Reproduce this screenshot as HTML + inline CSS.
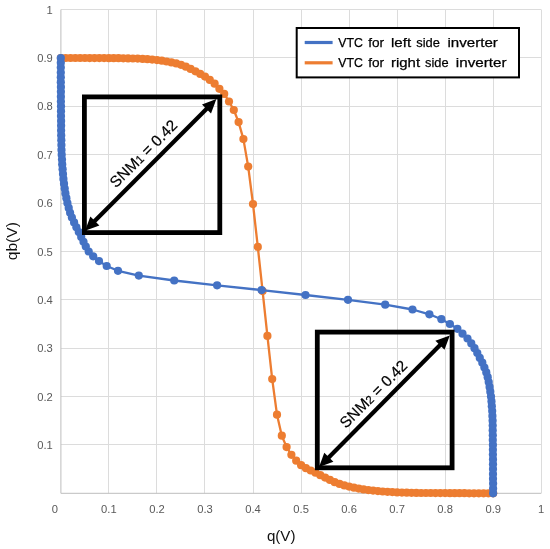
<!DOCTYPE html>
<html lang="en"><head><meta charset="utf-8"><title>VTC butterfly curve</title>
<style>
html,body{margin:0;padding:0;background:#fff}
body{width:550px;height:549px;overflow:hidden}
svg{display:block}
svg text{font-family:"Liberation Sans",sans-serif}
</style></head><body>
<svg width="550" height="549" viewBox="0 0 550 549">
<rect width="550" height="549" fill="#fff"/>
<g stroke="#dcdcdc" stroke-width="1"><line x1="108.5" y1="9.6" x2="108.5" y2="493.3"/><line x1="60.9" y1="444.5" x2="541.2" y2="444.5"/><line x1="156.5" y1="9.6" x2="156.5" y2="493.3"/><line x1="60.9" y1="396.5" x2="541.2" y2="396.5"/><line x1="204.5" y1="9.6" x2="204.5" y2="493.3"/><line x1="60.9" y1="348.5" x2="541.2" y2="348.5"/><line x1="253.5" y1="9.6" x2="253.5" y2="493.3"/><line x1="60.9" y1="299.5" x2="541.2" y2="299.5"/><line x1="301.5" y1="9.6" x2="301.5" y2="493.3"/><line x1="60.9" y1="251.5" x2="541.2" y2="251.5"/><line x1="349.5" y1="9.6" x2="349.5" y2="493.3"/><line x1="60.9" y1="203.5" x2="541.2" y2="203.5"/><line x1="397.5" y1="9.6" x2="397.5" y2="493.3"/><line x1="60.9" y1="154.5" x2="541.2" y2="154.5"/><line x1="445.5" y1="9.6" x2="445.5" y2="493.3"/><line x1="60.9" y1="106.5" x2="541.2" y2="106.5"/><line x1="493.5" y1="9.6" x2="493.5" y2="493.3"/><line x1="60.9" y1="57.5" x2="541.2" y2="57.5"/><line x1="541.5" y1="9.6" x2="541.5" y2="493.3"/><line x1="60.9" y1="9.5" x2="541.2" y2="9.5"/></g>
<g stroke="#bdbdbd" stroke-width="1"><line x1="60.9" y1="9.6" x2="60.9" y2="493.3"/><line x1="60.9" y1="493.3" x2="541.2" y2="493.3"/></g>
<g class="tick" fill="#595959" font-size="11.2"><text x="54.9" y="513.4" text-anchor="middle">0</text><text x="108.9" y="513.4" text-anchor="middle">0.1</text><text x="157.0" y="513.4" text-anchor="middle">0.2</text><text x="205.0" y="513.4" text-anchor="middle">0.3</text><text x="253.0" y="513.4" text-anchor="middle">0.4</text><text x="301.1" y="513.4" text-anchor="middle">0.5</text><text x="349.1" y="513.4" text-anchor="middle">0.6</text><text x="397.1" y="513.4" text-anchor="middle">0.7</text><text x="445.1" y="513.4" text-anchor="middle">0.8</text><text x="493.2" y="513.4" text-anchor="middle">0.9</text><text x="541.2" y="513.4" text-anchor="middle">1</text><text x="52.8" y="448.9" text-anchor="end">0.1</text><text x="52.8" y="400.6" text-anchor="end">0.2</text><text x="52.8" y="352.2" text-anchor="end">0.3</text><text x="52.8" y="303.8" text-anchor="end">0.4</text><text x="52.8" y="255.5" text-anchor="end">0.5</text><text x="52.8" y="207.1" text-anchor="end">0.6</text><text x="52.8" y="158.7" text-anchor="end">0.7</text><text x="52.8" y="110.3" text-anchor="end">0.8</text><text x="52.8" y="62.0" text-anchor="end">0.9</text><text x="52.8" y="13.6" text-anchor="end">1</text></g>
<text class="ttl" x="266.9" y="540.6" textLength="28.6" lengthAdjust="spacingAndGlyphs" font-size="15.3" fill="#111">q(V)</text>
<text class="ttl" transform="translate(17,260.3) rotate(-90)" textLength="38.2" lengthAdjust="spacingAndGlyphs" font-size="15.3" fill="#111">qb(V)</text>
<g fill="#ed7d31"><polyline fill="none" stroke="#ed7d31" stroke-width="2.3" stroke-linejoin="round" points="60.9,58.0 65.7,58.0 70.5,58.0 75.3,58.0 80.1,58.0 84.9,58.0 89.7,58.1 94.5,58.1 99.3,58.1 104.1,58.1 108.9,58.2 113.7,58.2 118.5,58.2 123.3,58.3 128.1,58.4 132.9,58.5 137.7,58.6 142.6,58.9 147.4,59.2 152.2,59.6 157.0,60.1 161.8,60.7 166.6,61.5 171.4,62.4 176.2,63.4 181.0,64.8 185.8,66.7 190.6,68.9 195.4,71.3 200.2,73.9 205.0,76.6 209.8,79.9 214.6,83.7 219.4,88.8 224.2,93.9 229.0,101.5 233.8,110.0 238.6,122.1 243.4,139.1 248.2,166.6 253.0,204.0 257.8,246.9 262.6,291.1 267.4,335.9 272.2,379.1 277.0,414.7 281.8,435.7 286.6,447.1 291.4,454.8 296.2,460.7 301.1,465.2 305.9,468.2 310.7,470.5 315.5,472.7 320.3,475.2 325.1,477.6 329.9,479.9 334.7,482.2 339.5,483.9 344.3,485.4 349.1,486.6 353.9,487.7 358.7,488.6 363.5,489.4 368.3,490.1 373.1,490.6 377.9,491.1 382.7,491.5 387.5,491.8 392.3,492.1 397.1,492.4 401.9,492.6 406.7,492.7 411.5,492.8 416.3,492.9 421.1,493.0 425.9,493.0 430.7,493.0 435.5,493.1 440.3,493.1 445.1,493.1 449.9,493.2 454.7,493.2 459.5,493.2 464.4,493.2 469.2,493.3 474.0,493.3 478.8,493.3 483.6,493.3 488.4,493.3 493.2,493.3"/><circle cx="60.9" cy="58.0" r="4.1"/><circle cx="65.7" cy="58.0" r="4.1"/><circle cx="70.5" cy="58.0" r="4.1"/><circle cx="75.3" cy="58.0" r="4.1"/><circle cx="80.1" cy="58.0" r="4.1"/><circle cx="84.9" cy="58.0" r="4.1"/><circle cx="89.7" cy="58.1" r="4.1"/><circle cx="94.5" cy="58.1" r="4.1"/><circle cx="99.3" cy="58.1" r="4.1"/><circle cx="104.1" cy="58.1" r="4.1"/><circle cx="108.9" cy="58.2" r="4.1"/><circle cx="113.7" cy="58.2" r="4.1"/><circle cx="118.5" cy="58.2" r="4.1"/><circle cx="123.3" cy="58.3" r="4.1"/><circle cx="128.1" cy="58.4" r="4.1"/><circle cx="132.9" cy="58.5" r="4.1"/><circle cx="137.7" cy="58.6" r="4.1"/><circle cx="142.6" cy="58.9" r="4.1"/><circle cx="147.4" cy="59.2" r="4.1"/><circle cx="152.2" cy="59.6" r="4.1"/><circle cx="157.0" cy="60.1" r="4.1"/><circle cx="161.8" cy="60.7" r="4.1"/><circle cx="166.6" cy="61.5" r="4.1"/><circle cx="171.4" cy="62.4" r="4.1"/><circle cx="176.2" cy="63.4" r="4.1"/><circle cx="181.0" cy="64.8" r="4.1"/><circle cx="185.8" cy="66.7" r="4.1"/><circle cx="190.6" cy="68.9" r="4.1"/><circle cx="195.4" cy="71.3" r="4.1"/><circle cx="200.2" cy="73.9" r="4.1"/><circle cx="205.0" cy="76.6" r="4.1"/><circle cx="209.8" cy="79.9" r="4.1"/><circle cx="214.6" cy="83.7" r="4.1"/><circle cx="219.4" cy="88.8" r="4.1"/><circle cx="224.2" cy="93.9" r="4.1"/><circle cx="229.0" cy="101.5" r="4.1"/><circle cx="233.8" cy="110.0" r="4.1"/><circle cx="238.6" cy="122.1" r="4.1"/><circle cx="243.4" cy="139.1" r="4.1"/><circle cx="248.2" cy="166.6" r="4.1"/><circle cx="253.0" cy="204.0" r="4.1"/><circle cx="257.8" cy="246.9" r="4.1"/><circle cx="262.6" cy="291.1" r="4.1"/><circle cx="267.4" cy="335.9" r="4.1"/><circle cx="272.2" cy="379.1" r="4.1"/><circle cx="277.0" cy="414.7" r="4.1"/><circle cx="281.8" cy="435.7" r="4.1"/><circle cx="286.6" cy="447.1" r="4.1"/><circle cx="291.4" cy="454.8" r="4.1"/><circle cx="296.2" cy="460.7" r="4.1"/><circle cx="301.1" cy="465.2" r="4.1"/><circle cx="305.9" cy="468.2" r="4.1"/><circle cx="310.7" cy="470.5" r="4.1"/><circle cx="315.5" cy="472.7" r="4.1"/><circle cx="320.3" cy="475.2" r="4.1"/><circle cx="325.1" cy="477.6" r="4.1"/><circle cx="329.9" cy="479.9" r="4.1"/><circle cx="334.7" cy="482.2" r="4.1"/><circle cx="339.5" cy="483.9" r="4.1"/><circle cx="344.3" cy="485.4" r="4.1"/><circle cx="349.1" cy="486.6" r="4.1"/><circle cx="353.9" cy="487.7" r="4.1"/><circle cx="358.7" cy="488.6" r="4.1"/><circle cx="363.5" cy="489.4" r="4.1"/><circle cx="368.3" cy="490.1" r="4.1"/><circle cx="373.1" cy="490.6" r="4.1"/><circle cx="377.9" cy="491.1" r="4.1"/><circle cx="382.7" cy="491.5" r="4.1"/><circle cx="387.5" cy="491.8" r="4.1"/><circle cx="392.3" cy="492.1" r="4.1"/><circle cx="397.1" cy="492.4" r="4.1"/><circle cx="401.9" cy="492.6" r="4.1"/><circle cx="406.7" cy="492.7" r="4.1"/><circle cx="411.5" cy="492.8" r="4.1"/><circle cx="416.3" cy="492.9" r="4.1"/><circle cx="421.1" cy="493.0" r="4.1"/><circle cx="425.9" cy="493.0" r="4.1"/><circle cx="430.7" cy="493.0" r="4.1"/><circle cx="435.5" cy="493.1" r="4.1"/><circle cx="440.3" cy="493.1" r="4.1"/><circle cx="445.1" cy="493.1" r="4.1"/><circle cx="449.9" cy="493.2" r="4.1"/><circle cx="454.7" cy="493.2" r="4.1"/><circle cx="459.5" cy="493.2" r="4.1"/><circle cx="464.4" cy="493.2" r="4.1"/><circle cx="469.2" cy="493.3" r="4.1"/><circle cx="474.0" cy="493.3" r="4.1"/><circle cx="478.8" cy="493.3" r="4.1"/><circle cx="483.6" cy="493.3" r="4.1"/><circle cx="488.4" cy="493.3" r="4.1"/><circle cx="493.2" cy="493.3" r="4.1"/></g>
<g fill="#4472c4"><polyline fill="none" stroke="#4472c4" stroke-width="2.3" stroke-linejoin="round" points="493.1,493.3 493.1,488.5 493.1,483.6 493.0,478.8 493.0,474.0 493.0,469.1 493.0,464.3 493.0,459.4 492.9,454.6 492.9,449.8 492.9,444.9 492.8,440.1 492.8,435.3 492.7,430.4 492.7,425.6 492.6,420.7 492.4,415.9 492.2,411.1 491.8,406.2 491.5,401.4 491.0,396.6 490.3,391.7 489.6,386.9 488.7,382.0 487.7,377.2 486.3,372.4 484.4,367.5 482.3,362.7 479.8,357.9 477.3,353.0 474.5,348.2 471.3,343.4 467.5,338.5 462.5,333.7 457.4,328.8 449.9,324.0 441.4,319.2 429.4,314.3 412.5,309.5 385.2,304.7 348.0,299.8 305.5,295.0 261.6,290.1 217.1,285.3 174.2,280.5 138.8,275.6 118.0,270.8 106.7,266.0 99.0,261.1 93.2,256.3 88.7,251.5 85.8,246.6 83.5,241.8 81.2,236.9 78.8,232.1 76.4,227.3 74.1,222.4 71.9,217.6 70.1,212.8 68.7,207.9 67.4,203.1 66.4,198.2 65.4,193.4 64.7,188.6 64.0,183.7 63.4,178.9 63.0,174.1 62.6,169.2 62.2,164.4 62.0,159.5 61.7,154.7 61.5,149.9 61.4,145.0 61.3,140.2 61.2,135.4 61.1,130.5 61.1,125.7 61.1,120.9 61.0,116.0 61.0,111.2 61.0,106.3 60.9,101.5 60.9,96.7 60.9,91.8 60.9,87.0 60.8,82.2 60.8,77.3 60.8,72.5 60.8,67.6 60.8,62.8 60.8,58.0"/><circle cx="493.1" cy="493.3" r="4.1"/><circle cx="493.1" cy="488.5" r="4.1"/><circle cx="493.1" cy="483.6" r="4.1"/><circle cx="493.0" cy="478.8" r="4.1"/><circle cx="493.0" cy="474.0" r="4.1"/><circle cx="493.0" cy="469.1" r="4.1"/><circle cx="493.0" cy="464.3" r="4.1"/><circle cx="493.0" cy="459.4" r="4.1"/><circle cx="492.9" cy="454.6" r="4.1"/><circle cx="492.9" cy="449.8" r="4.1"/><circle cx="492.9" cy="444.9" r="4.1"/><circle cx="492.8" cy="440.1" r="4.1"/><circle cx="492.8" cy="435.3" r="4.1"/><circle cx="492.7" cy="430.4" r="4.1"/><circle cx="492.7" cy="425.6" r="4.1"/><circle cx="492.6" cy="420.7" r="4.1"/><circle cx="492.4" cy="415.9" r="4.1"/><circle cx="492.2" cy="411.1" r="4.1"/><circle cx="491.8" cy="406.2" r="4.1"/><circle cx="491.5" cy="401.4" r="4.1"/><circle cx="491.0" cy="396.6" r="4.1"/><circle cx="490.3" cy="391.7" r="4.1"/><circle cx="489.6" cy="386.9" r="4.1"/><circle cx="488.7" cy="382.0" r="4.1"/><circle cx="487.7" cy="377.2" r="4.1"/><circle cx="486.3" cy="372.4" r="4.1"/><circle cx="484.4" cy="367.5" r="4.1"/><circle cx="482.3" cy="362.7" r="4.1"/><circle cx="479.8" cy="357.9" r="4.1"/><circle cx="477.3" cy="353.0" r="4.1"/><circle cx="474.5" cy="348.2" r="4.1"/><circle cx="471.3" cy="343.4" r="4.1"/><circle cx="467.5" cy="338.5" r="4.1"/><circle cx="462.5" cy="333.7" r="4.1"/><circle cx="457.4" cy="328.8" r="4.1"/><circle cx="449.9" cy="324.0" r="4.1"/><circle cx="441.4" cy="319.2" r="4.1"/><circle cx="429.4" cy="314.3" r="4.1"/><circle cx="412.5" cy="309.5" r="4.1"/><circle cx="385.2" cy="304.7" r="4.1"/><circle cx="348.0" cy="299.8" r="4.1"/><circle cx="305.5" cy="295.0" r="4.1"/><circle cx="261.6" cy="290.1" r="4.1"/><circle cx="217.1" cy="285.3" r="4.1"/><circle cx="174.2" cy="280.5" r="4.1"/><circle cx="138.8" cy="275.6" r="4.1"/><circle cx="118.0" cy="270.8" r="4.1"/><circle cx="106.7" cy="266.0" r="4.1"/><circle cx="99.0" cy="261.1" r="4.1"/><circle cx="93.2" cy="256.3" r="4.1"/><circle cx="88.7" cy="251.5" r="4.1"/><circle cx="85.8" cy="246.6" r="4.1"/><circle cx="83.5" cy="241.8" r="4.1"/><circle cx="81.2" cy="236.9" r="4.1"/><circle cx="78.8" cy="232.1" r="4.1"/><circle cx="76.4" cy="227.3" r="4.1"/><circle cx="74.1" cy="222.4" r="4.1"/><circle cx="71.9" cy="217.6" r="4.1"/><circle cx="70.1" cy="212.8" r="4.1"/><circle cx="68.7" cy="207.9" r="4.1"/><circle cx="67.4" cy="203.1" r="4.1"/><circle cx="66.4" cy="198.2" r="4.1"/><circle cx="65.4" cy="193.4" r="4.1"/><circle cx="64.7" cy="188.6" r="4.1"/><circle cx="64.0" cy="183.7" r="4.1"/><circle cx="63.4" cy="178.9" r="4.1"/><circle cx="63.0" cy="174.1" r="4.1"/><circle cx="62.6" cy="169.2" r="4.1"/><circle cx="62.2" cy="164.4" r="4.1"/><circle cx="62.0" cy="159.5" r="4.1"/><circle cx="61.7" cy="154.7" r="4.1"/><circle cx="61.5" cy="149.9" r="4.1"/><circle cx="61.4" cy="145.0" r="4.1"/><circle cx="61.3" cy="140.2" r="4.1"/><circle cx="61.2" cy="135.4" r="4.1"/><circle cx="61.1" cy="130.5" r="4.1"/><circle cx="61.1" cy="125.7" r="4.1"/><circle cx="61.1" cy="120.9" r="4.1"/><circle cx="61.0" cy="116.0" r="4.1"/><circle cx="61.0" cy="111.2" r="4.1"/><circle cx="61.0" cy="106.3" r="4.1"/><circle cx="60.9" cy="101.5" r="4.1"/><circle cx="60.9" cy="96.7" r="4.1"/><circle cx="60.9" cy="91.8" r="4.1"/><circle cx="60.9" cy="87.0" r="4.1"/><circle cx="60.8" cy="82.2" r="4.1"/><circle cx="60.8" cy="77.3" r="4.1"/><circle cx="60.8" cy="72.5" r="4.1"/><circle cx="60.8" cy="67.6" r="4.1"/><circle cx="60.8" cy="62.8" r="4.1"/><circle cx="60.8" cy="58.0" r="4.1"/></g>
<rect x="296.7" y="28" width="222.3" height="49.4" fill="#fff" stroke="#000" stroke-width="2"/>
<line x1="304.7" y1="42.5" x2="332.6" y2="42.5" stroke="#4472c4" stroke-width="3.2"/>
<line x1="304.7" y1="62.8" x2="332.6" y2="62.8" stroke="#ed7d31" stroke-width="3.2"/>
<g class="leg" font-size="13.5" fill="#000" stroke="#000" stroke-width="0.25"><text x="338.2" y="46.7" textLength="24.6" lengthAdjust="spacingAndGlyphs">VTC</text><text x="368.2" y="46.7" textLength="15.9" lengthAdjust="spacingAndGlyphs">for</text><text x="391.0" y="46.7" textLength="20.1" lengthAdjust="spacingAndGlyphs">left</text><text x="416.3" y="46.7" textLength="23.6" lengthAdjust="spacingAndGlyphs">side</text><text x="447.5" y="46.7" textLength="50.4" lengthAdjust="spacingAndGlyphs">inverter</text><text x="338.2" y="66.8" textLength="24.6" lengthAdjust="spacingAndGlyphs">VTC</text><text x="368.2" y="66.8" textLength="15.9" lengthAdjust="spacingAndGlyphs">for</text><text x="391.0" y="66.8" textLength="29.1" lengthAdjust="spacingAndGlyphs">right</text><text x="425.1" y="66.8" textLength="23.5" lengthAdjust="spacingAndGlyphs">side</text><text x="455.8" y="66.8" textLength="50.7" lengthAdjust="spacingAndGlyphs">inverter</text></g>
<rect x="84.4" y="96.9" width="135.4" height="135.7" fill="none" stroke="#000" stroke-width="4.8"/><line x1="94.2" y1="221.6" x2="207.2" y2="108.3" stroke="#000" stroke-width="4.2"/><polygon points="85.0,230.8 99.4,225.4 90.4,216.4" fill="#000"/><polygon points="216.4,99.1 211.0,113.5 202.0,104.5" fill="#000"/><text class="snm" transform="translate(147.2,157.4) rotate(-45)" text-anchor="middle" font-size="15.4" fill="#000" stroke="#000" stroke-width="0.2">SNM<tspan font-size="11.5">1</tspan> = 0.42</text>
<rect x="317.3" y="332.1" width="134.8" height="135.7" fill="none" stroke="#000" stroke-width="4.8"/><line x1="328.2" y1="457.9" x2="440.6" y2="344.6" stroke="#000" stroke-width="4.2"/><polygon points="319.0,467.1 333.4,461.7 324.3,452.7" fill="#000"/><polygon points="449.8,335.4 444.5,349.8 435.4,340.8" fill="#000"/><text class="snm" transform="translate(377.2,397.8) rotate(-45)" text-anchor="middle" font-size="15.4" fill="#000" stroke="#000" stroke-width="0.2">SNM<tspan font-size="11.5">2</tspan> = 0.42</text>
</svg>
</body></html>
